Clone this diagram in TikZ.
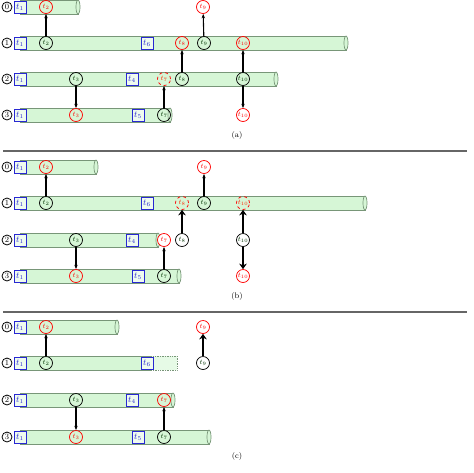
\documentclass[tikz,border=0pt]{standalone}
\usetikzlibrary{arrows.meta}

\definecolor{pipegreen}{RGB}{214,246,214}
\definecolor{pipeedge}{RGB}{120,150,120}
\definecolor{boxblue}{RGB}{40,40,210}

\tikzset{
  pipe/.style={fill=pipegreen,draw=pipeedge,line width=0.7pt},
  ghostpipe/.style={fill=pipegreen!60,draw=pipeedge,densely dotted,line width=0.7pt},
  tbox/.style={rectangle,draw=boxblue,fill=pipegreen!40,text=boxblue,line width=0.9pt,
    minimum size=12pt,inner sep=0pt,font=\small},
  recv/.style={circle,draw=red,text=red,line width=0.7pt,minimum size=13pt,inner sep=0pt,font=\scriptsize},
  lost/.style={recv,dashed,text=red!70!orange},
  send/.style={circle,draw=black,text=black!80!green,line width=0.7pt,minimum size=13pt,inner sep=0pt,font=\scriptsize},
  rownum/.style={circle,draw=black,line width=0.8pt,minimum size=10pt,inner sep=0pt,font=\footnotesize},
  msg/.style={-{Stealth[length=4.5pt]},line width=1.1pt},
  bigmsg/.style={-{Stealth[length=5.5pt,width=7.5pt]},line width=2.6pt},
  subcap/.style={font=\footnotesize}
}

% pipe from x #1 to x #2 on row y #3
\newcommand{\pipe}[3]{%
  \filldraw[pipe] (#1,#3-7) rectangle (#2,#3+7);
  \filldraw[pipe] (#2,#3) ellipse (2pt and 7pt);}

\begin{document}
\begin{tikzpicture}[x=1pt,y=-1pt]
  \useasboundingbox (0,0) rectangle (474,472);

  % (a)
  \pipe{20}{78}{7}
  \pipe{20}{346}{43}
  \pipe{20}{276}{79}
  \pipe{20}{170}{115}
  % (b)
  \pipe{20}{96}{167}
  \pipe{20}{365}{203}
  \pipe{20}{158}{240}
  \pipe{20}{179}{276}
  % (c)
  \pipe{20}{117}{327}
  \filldraw[ghostpipe] (150,356) rectangle (177,370);
  \filldraw[pipe] (20,356) rectangle (150,370);
  \pipe{20}{173}{400}
  \pipe{20}{209}{437}

  % row numbers and first boxes
  \foreach \p/\ya/\yb/\yc/\yd in {a/7/43/79/115,b/167/203/240/276,c/327/363/400/437} {
    \foreach \r/\y in {0/\ya,1/\yb,2/\yc,3/\yd} {
      \node[rownum] (\p\r-n) at (7,\y) {\r};
      \node[tbox] (\p\r-t1) at (20,\y) {$t_1$};
    }
  }

  % (a)
  \node[recv] (a0-t2) at (46,7) {$t_2$};
  \node[recv] (a0-t9) at (203,7) {$t_9$};
  \node[send] (a1-t2) at (46,43) {$t_2$};
  \node[tbox] (a1-t6) at (147,43) {$t_6$};
  \node[recv] (a1-t8) at (182,43) {$t_8$};
  \node[send] (a1-t9) at (204,43) {$t_9$};
  \node[recv] (a1-t10) at (243,43) {$t_{10}$};
  \node[send] (a2-t3) at (76,79) {$t_3$};
  \node[tbox] (a2-t4) at (132,79) {$t_4$};
  \node[lost] (a2-t7) at (164,79) {$t_7$};
  \node[send] (a2-t8) at (182,79) {$t_8$};
  \node[send] (a2-t10) at (243,79) {$t_{10}$};
  \node[recv] (a3-t3) at (76,115) {$t_3$};
  \node[tbox] (a3-t5) at (138,115) {$t_5$};
  \node[send] (a3-t7) at (164,115) {$t_7$};
  \node[recv] (a3-t10) at (243,115) {$t_{10}$};
  \draw[msg] (a1-t2) -- (a0-t2);
  \draw[msg] (a2-t3) -- (a3-t3);
  \draw[msg] (a3-t7) -- (a2-t7);
  \draw[msg] (a2-t8) -- (a1-t8);
  \draw[msg] (a1-t9) -- (a0-t9);
  \draw[msg] (a2-t10) -- (a1-t10);
  \draw[msg] (a2-t10) -- (a3-t10);
  \node[subcap] (a-cap) at (237,135) {(a)};

  \draw[gray!80!black,line width=1.2pt] (3,151) -- (467,151);

  % (b)
  \node[recv] (b0-t2) at (46,167) {$t_2$};
  \node[recv] (b0-t9) at (204,167) {$t_9$};
  \node[send] (b1-t2) at (46,203) {$t_2$};
  \node[tbox] (b1-t6) at (147,203) {$t_6$};
  \node[lost] (b1-t8) at (182,203) {$t_8$};
  \node[send] (b1-t9) at (204,203) {$t_9$};
  \node[lost] (b1-t10) at (243,203) {$t_{10}$};
  \node[send] (b2-t3) at (76,240) {$t_3$};
  \node[tbox] (b2-t4) at (132,240) {$t_4$};
  \node[recv,fill=white] (b2-t7) at (164,240) {$t_7$};
  \node[send,fill=white] (b2-t8) at (182,240) {$t_8$};
  \node[send,fill=white] (b2-t10) at (243,240) {$t_{10}$};
  \node[recv] (b3-t3) at (76,276) {$t_3$};
  \node[tbox] (b3-t5) at (138,276) {$t_5$};
  \node[send] (b3-t7) at (164,276) {$t_7$};
  \node[recv,fill=white] (b3-t10) at (243,276) {$t_{10}$};
  \draw[msg] (b1-t2) -- (b0-t2);
  \draw[msg] (b2-t3) -- (b3-t3);
  \draw[msg] (b3-t7) -- (b2-t7);
  \draw[bigmsg] (b2-t8) -- (b1-t8);
  \draw[msg] (b1-t9) -- (b0-t9);
  \draw[bigmsg] (b2-t10) -- (b1-t10);
  \draw[bigmsg] (b2-t10) -- (b3-t10);
  \node[subcap] (b-cap) at (237,296) {(b)};

  \draw[gray!80!black,line width=1.2pt] (3,312) -- (467,312);

  % (c)
  \node[recv] (c0-t2) at (46,327) {$t_2$};
  \node[recv,fill=white] (c0-t9) at (203,327) {$t_9$};
  \node[send] (c1-t2) at (46,363) {$t_2$};
  \node[tbox] (c1-t6) at (147,363) {$t_6$};
  \node[send,fill=white] (c1-t9) at (203,363) {$t_9$};
  \node[send] (c2-t3) at (76,400) {$t_3$};
  \node[tbox] (c2-t4) at (132,400) {$t_4$};
  \node[recv] (c2-t7) at (164,400) {$t_7$};
  \node[recv] (c3-t3) at (76,437) {$t_3$};
  \node[tbox] (c3-t5) at (138,437) {$t_5$};
  \node[send] (c3-t7) at (164,437) {$t_7$};
  \draw[msg] (c1-t2) -- (c0-t2);
  \draw[msg] (c2-t3) -- (c3-t3);
  \draw[msg] (c3-t7) -- (c2-t7);
  \draw[bigmsg] (c1-t9) -- (c0-t9);
  \node[subcap] (c-cap) at (237,456) {(c)};
\end{tikzpicture}
\end{document}
